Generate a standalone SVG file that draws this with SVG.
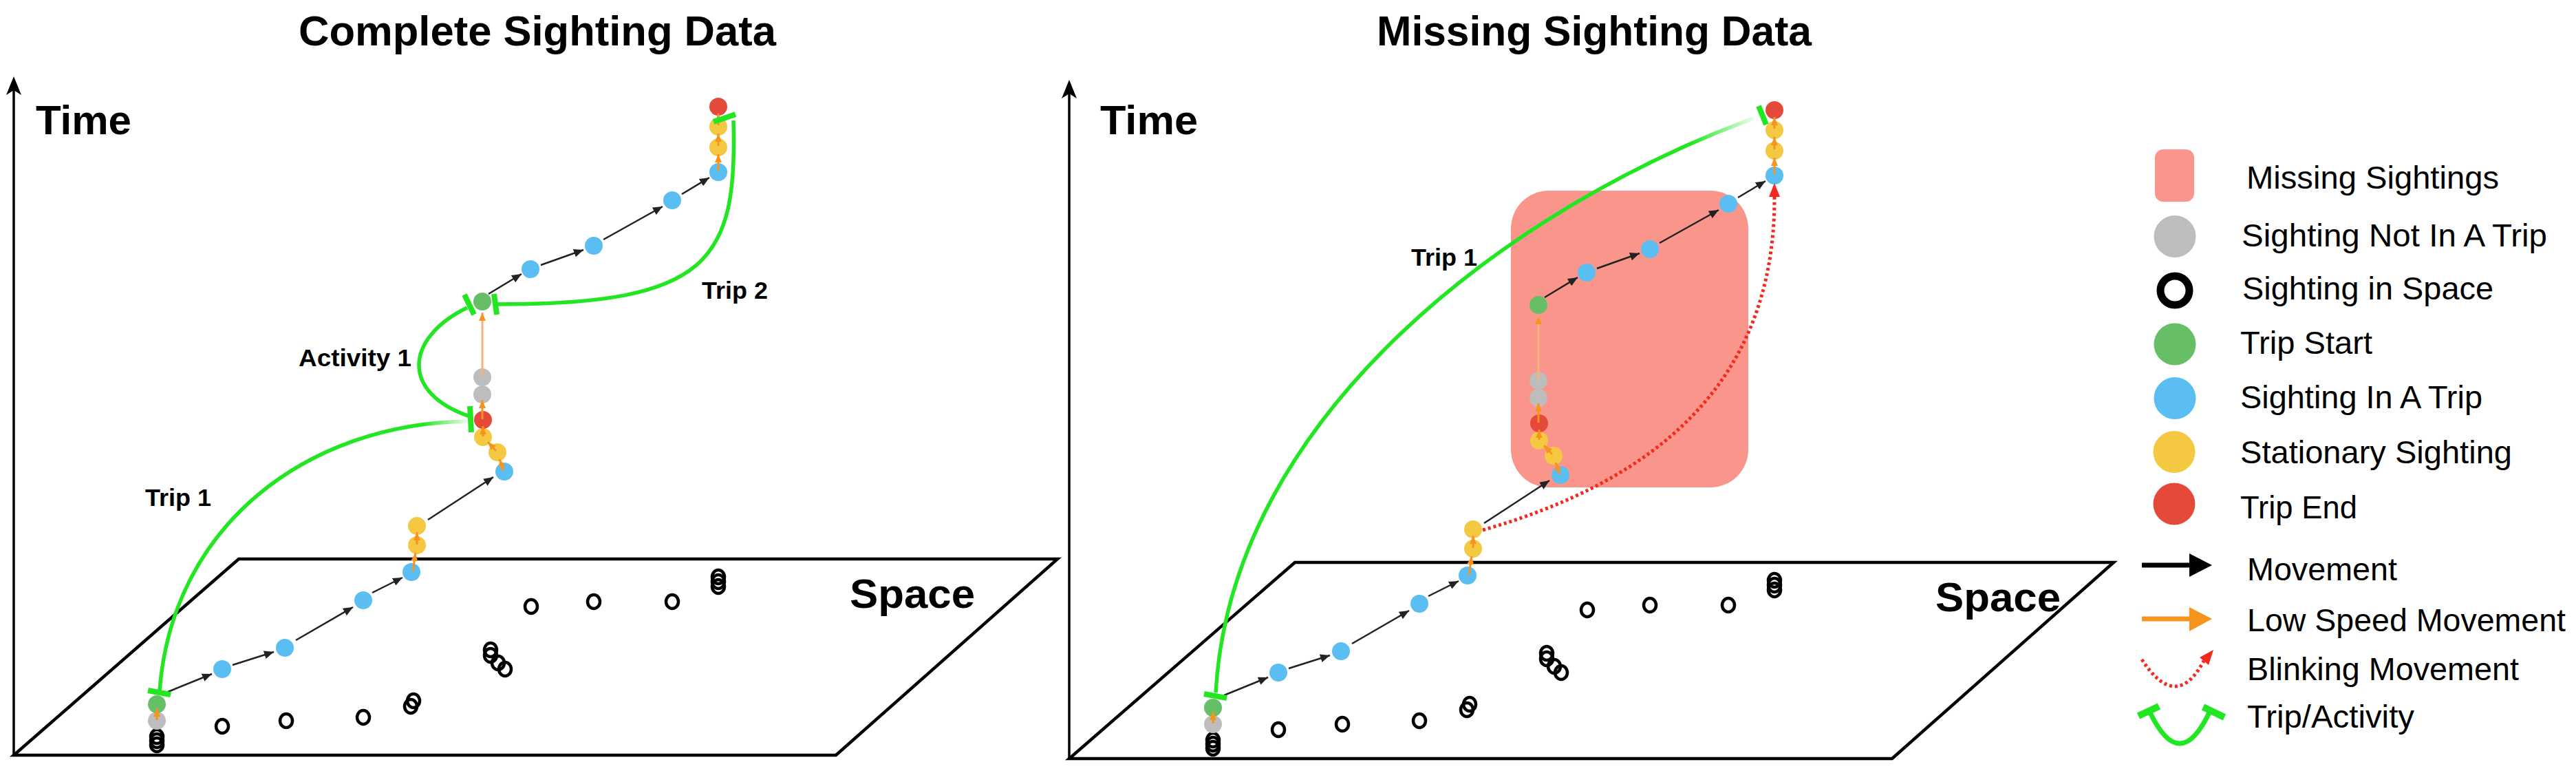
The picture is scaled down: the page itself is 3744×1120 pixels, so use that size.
<svg xmlns="http://www.w3.org/2000/svg" xmlns:xlink="http://www.w3.org/1999/xlink" width="3744" height="1120" viewBox="0 0 3744 1120">
<style>
text{font-family:'Liberation Sans',Arial,Helvetica,sans-serif;fill:#000}
.ttl{font-size:61px;font-weight:bold}
.ax{font-size:60px;font-weight:bold}
.lab{font-size:35px;font-weight:bold}
.leg{font-size:46px}
.g{fill:#66BF66}.gy{fill:#BDBDBD}.b{fill:#5BBEF2}.y{fill:#F5C842}.r{fill:#E5493A}
.ring{fill:none;stroke:#000;stroke-width:4.5}
.plane{fill:none;stroke:#000;stroke-width:4.5;stroke-linejoin:miter}
.axis{stroke:#000;stroke-width:3.5}
.mv{stroke:#222;stroke-width:2.5;fill:none;marker-end:url(#hb)}
.ls{stroke:#F7941D;stroke-width:3;fill:none;marker-end:url(#ho)}
.lsl{stroke:#F6B27C;stroke-width:3;fill:none;marker-end:url(#ho)}
.trip{stroke:#22E622;stroke-width:5.5;fill:none}
.bar{stroke:#22E622;stroke-width:8;stroke-linecap:butt}
.blink{stroke:#F5281E;stroke-width:5;stroke-dasharray:4 4;fill:none}
</style>
<defs>
<marker id="hb" markerUnits="userSpaceOnUse" viewBox="0 0 14 12" refX="14" refY="6" markerWidth="14" markerHeight="12" orient="auto"><path d="M0,0 L14,6 L0,12 z" fill="#222"/></marker>
<marker id="ho" markerUnits="userSpaceOnUse" viewBox="0 0 12 10" refX="12" refY="5" markerWidth="12" markerHeight="10" orient="auto"><path d="M0,0 L12,5 L0,10 z" fill="#F7941D"/></marker>
<linearGradient id="fadeL" gradientUnits="userSpaceOnUse" x1="679" y1="612" x2="615" y2="616"><stop offset="0" stop-color="#22E622" stop-opacity="0.1"/><stop offset="1" stop-color="#22E622" stop-opacity="1"/></linearGradient>
<linearGradient id="fadeR" gradientUnits="userSpaceOnUse" x1="2548" y1="172" x2="2460" y2="212"><stop offset="0" stop-color="#22E622" stop-opacity="0.1"/><stop offset="1" stop-color="#22E622" stop-opacity="1"/></linearGradient>
</defs>
<rect width="3744" height="1120" fill="#fff"/>

<!-- titles -->
<text class="ttl" x="781" y="66" text-anchor="middle" textLength="694" lengthAdjust="spacingAndGlyphs">Complete Sighting Data</text>
<text class="ttl" x="2317" y="66" text-anchor="middle" textLength="632" lengthAdjust="spacingAndGlyphs">Missing Sighting Data</text>

<!-- missing region (behind) -->
<g id="missing-region"><rect x="2196" y="277" width="345" height="431" rx="55" fill="#F9958A"/></g>

<!-- axes and planes -->
<g id="left-frame">
<line class="axis" x1="20" y1="1097" x2="20" y2="126"/>
<polygon points="20,111 9,138 20,131 31,138" fill="#000"/>
<polygon class="plane" points="347,812 1537,812 1215,1097 20,1097"/>
<text class="ax" x="52" y="195" textLength="139" lengthAdjust="spacingAndGlyphs">Time</text>
<text class="ax" x="1235" y="883" textLength="182" lengthAdjust="spacingAndGlyphs">Space</text>
</g>
<g id="right-frame">
<line class="axis" x1="1554" y1="1102" x2="1554" y2="131"/>
<polygon points="1554,116 1543,143 1554,136 1565,143" fill="#000"/>
<polygon class="plane" points="1882,817 3072,817 2750,1102 1554,1102"/>
<text class="ax" x="1599" y="195" textLength="142" lengthAdjust="spacingAndGlyphs">Time</text>
<text class="ax" x="2813" y="888" textLength="182" lengthAdjust="spacingAndGlyphs">Space</text>
</g>

<!-- LEFT nodes -->
<g id="left-nodes">
<g id="L-s0"><ellipse class="ring" cx="228" cy="1070" rx="9" ry="10"/><ellipse class="ring" cx="228" cy="1076" rx="9" ry="10"/><ellipse class="ring" cx="228" cy="1082" rx="9" ry="10"/></g>
<g id="L-s1"><ellipse class="ring" cx="323" cy="1055" rx="9" ry="10"/></g>
<g id="L-s2"><ellipse class="ring" cx="416" cy="1047" rx="9" ry="10"/></g>
<g id="L-s3"><ellipse class="ring" cx="528" cy="1042" rx="9" ry="10"/></g>
<g id="L-s4"><ellipse class="ring" cx="597" cy="1026" rx="9" ry="10"/><ellipse class="ring" cx="601" cy="1018" rx="9" ry="10"/></g>
<g id="L-s5"><ellipse class="ring" cx="713" cy="944" rx="9" ry="10"/><ellipse class="ring" cx="713" cy="952" rx="9" ry="10"/><ellipse class="ring" cx="724" cy="963" rx="9" ry="10"/><ellipse class="ring" cx="734" cy="972" rx="9" ry="10"/></g>
<g id="L-s6"><ellipse class="ring" cx="772" cy="881" rx="9" ry="10"/></g>
<g id="L-s7"><ellipse class="ring" cx="863" cy="874" rx="9" ry="10"/></g>
<g id="L-s8"><ellipse class="ring" cx="977" cy="874" rx="9" ry="10"/></g>
<g id="L-s9"><ellipse class="ring" cx="1044" cy="838" rx="9" ry="10"/><ellipse class="ring" cx="1044" cy="845" rx="9" ry="10"/><ellipse class="ring" cx="1044" cy="852" rx="9" ry="10"/></g>
<g id="L-gy1"><circle class="gy" cx="228" cy="1047" r="13"/></g>
<g id="L-st1"><circle class="g" cx="228" cy="1023" r="13"/></g>
<g id="L-b1"><circle class="b" cx="323" cy="972" r="13"/></g>
<g id="L-b2"><circle class="b" cx="414" cy="941" r="13"/></g>
<g id="L-b3"><circle class="b" cx="528" cy="872" r="13"/></g>
<g id="L-b4"><circle class="b" cx="598" cy="831" r="13"/></g>
<g id="L-y1"><circle class="y" cx="606" cy="792" r="13"/></g>
<g id="L-y2"><circle class="y" cx="606" cy="764" r="13"/></g>
<g id="L-b5"><circle class="b" cx="733" cy="685" r="13"/></g>
<g id="L-y3"><circle class="y" cx="723" cy="657" r="13"/></g>
<g id="L-y4"><circle class="y" cx="702" cy="635" r="13"/></g>
<g id="L-e1"><circle class="r" cx="702" cy="610" r="13"/></g>
<g id="L-gy2"><circle class="gy" cx="701" cy="573" r="13"/></g>
<g id="L-gy3"><circle class="gy" cx="701" cy="548" r="13"/></g>
<g id="L-st2"><circle class="g" cx="701" cy="438" r="13"/></g>
<g id="L-b6"><circle class="b" cx="771" cy="391" r="13"/></g>
<g id="L-b7"><circle class="b" cx="863" cy="357" r="13"/></g>
<g id="L-b8"><circle class="b" cx="977" cy="291" r="13"/></g>
<g id="L-b9"><circle class="b" cx="1044" cy="250" r="13"/></g>
<g id="L-y5"><circle class="y" cx="1044" cy="214" r="13"/></g>
<g id="L-y6"><circle class="y" cx="1044" cy="184" r="13"/></g>
<g id="L-e2"><circle class="r" cx="1044" cy="155" r="13"/></g>
</g>

<!-- RIGHT nodes -->
<g id="right-nodes" transform="translate(1535,5)">
<g id="R-s0"><ellipse class="ring" cx="228" cy="1070" rx="9" ry="10"/><ellipse class="ring" cx="228" cy="1076" rx="9" ry="10"/><ellipse class="ring" cx="228" cy="1082" rx="9" ry="10"/></g>
<g id="R-s1"><ellipse class="ring" cx="323" cy="1055" rx="9" ry="10"/></g>
<g id="R-s2"><ellipse class="ring" cx="416" cy="1047" rx="9" ry="10"/></g>
<g id="R-s3"><ellipse class="ring" cx="528" cy="1042" rx="9" ry="10"/></g>
<g id="R-s4"><ellipse class="ring" cx="597" cy="1026" rx="9" ry="10"/><ellipse class="ring" cx="601" cy="1018" rx="9" ry="10"/></g>
<g id="R-s5"><ellipse class="ring" cx="713" cy="944" rx="9" ry="10"/><ellipse class="ring" cx="713" cy="952" rx="9" ry="10"/><ellipse class="ring" cx="724" cy="963" rx="9" ry="10"/><ellipse class="ring" cx="734" cy="972" rx="9" ry="10"/></g>
<g id="R-s6"><ellipse class="ring" cx="772" cy="881" rx="9" ry="10"/></g>
<g id="R-s7"><ellipse class="ring" cx="863" cy="874" rx="9" ry="10"/></g>
<g id="R-s8"><ellipse class="ring" cx="977" cy="874" rx="9" ry="10"/></g>
<g id="R-s9"><ellipse class="ring" cx="1044" cy="838" rx="9" ry="10"/><ellipse class="ring" cx="1044" cy="845" rx="9" ry="10"/><ellipse class="ring" cx="1044" cy="852" rx="9" ry="10"/></g>
<g id="R-gy1"><circle class="gy" cx="228" cy="1047" r="13"/></g>
<g id="R-st1"><circle class="g" cx="228" cy="1023" r="13"/></g>
<g id="R-b1"><circle class="b" cx="323" cy="972" r="13"/></g>
<g id="R-b2"><circle class="b" cx="414" cy="941" r="13"/></g>
<g id="R-b3"><circle class="b" cx="528" cy="872" r="13"/></g>
<g id="R-b4"><circle class="b" cx="598" cy="831" r="13"/></g>
<g id="R-y1"><circle class="y" cx="606" cy="792" r="13"/></g>
<g id="R-y2"><circle class="y" cx="606" cy="764" r="13"/></g>
<g id="R-b5"><circle class="b" cx="733" cy="685" r="13"/></g>
<g id="R-y3"><circle class="y" cx="723" cy="657" r="13"/></g>
<g id="R-y4"><circle class="y" cx="702" cy="635" r="13"/></g>
<g id="R-e1"><circle class="r" cx="702" cy="610" r="13"/></g>
<g id="R-gy2"><circle class="gy" cx="701" cy="573" r="13"/></g>
<g id="R-gy3"><circle class="gy" cx="701" cy="548" r="13"/></g>
<g id="R-st2"><circle class="g" cx="701" cy="438" r="13"/></g>
<g id="R-b6"><circle class="b" cx="771" cy="391" r="13"/></g>
<g id="R-b7"><circle class="b" cx="863" cy="357" r="13"/></g>
<g id="R-b8"><circle class="b" cx="977" cy="291" r="13"/></g>
<g id="R-b9"><circle class="b" cx="1044" cy="250" r="13"/></g>
<g id="R-y5"><circle class="y" cx="1044" cy="214" r="13"/></g>
<g id="R-y6"><circle class="y" cx="1044" cy="184" r="13"/></g>
<g id="R-e2"><circle class="r" cx="1044" cy="155" r="13"/></g>
</g>

<!-- connectors -->
<g id="connectors">
<g id="left-moves">
<line class="ls" x1="228" y1="1046" x2="228" y2="1029"/>
<line class="mv" x1="244" y1="1005" x2="308" y2="979"/>
<line class="mv" x1="338" y1="966" x2="398" y2="947"/>
<line class="mv" x1="430" y1="930" x2="513" y2="882"/>
<line class="mv" x1="541" y1="861" x2="585" y2="839"/>
<line class="ls" x1="600" y1="830" x2="604" y2="803"/>
<line class="ls" x1="606" y1="791" x2="606" y2="773"/>
<line class="mv" x1="622" y1="755" x2="717" y2="693"/>
<line class="ls" x1="732" y1="684" x2="726" y2="667"/>
<line class="ls" x1="721" y1="655" x2="709" y2="642"/>
<line class="ls" x1="702" y1="634" x2="702" y2="619"/>
<line class="ls" x1="701" y1="609" x2="701" y2="581"/>
<line class="lsl" x1="701" y1="546" x2="701" y2="454"/>
<line class="mv" x1="710" y1="427" x2="758" y2="398"/>
<line class="mv" x1="786" y1="385" x2="848" y2="363"/>
<line class="mv" x1="877" y1="348" x2="963" y2="300"/>
<line class="mv" x1="991" y1="282" x2="1031" y2="258"/>
<line class="ls" x1="1044" y1="248" x2="1044" y2="224"/>
<line class="ls" x1="1044" y1="212" x2="1044" y2="194"/>
<line class="ls" x1="1044" y1="182" x2="1044" y2="165"/>
</g>
<g id="right-moves" transform="translate(1535,5)">
<line class="ls" x1="228" y1="1046" x2="228" y2="1029"/>
<line class="mv" x1="244" y1="1005" x2="308" y2="979"/>
<line class="mv" x1="338" y1="966" x2="398" y2="947"/>
<line class="mv" x1="430" y1="930" x2="513" y2="882"/>
<line class="mv" x1="541" y1="861" x2="585" y2="839"/>
<line class="ls" x1="600" y1="830" x2="604" y2="803"/>
<line class="ls" x1="606" y1="791" x2="606" y2="773"/>
<line class="mv" x1="622" y1="755" x2="717" y2="693"/>
<line class="ls" x1="732" y1="684" x2="726" y2="667"/>
<line class="ls" x1="721" y1="655" x2="709" y2="642"/>
<line class="ls" x1="702" y1="634" x2="702" y2="619"/>
<line class="ls" x1="701" y1="609" x2="701" y2="581"/>
<line class="lsl" x1="701" y1="546" x2="701" y2="454"/>
<line class="mv" x1="710" y1="427" x2="758" y2="398"/>
<line class="mv" x1="786" y1="385" x2="848" y2="363"/>
<line class="mv" x1="877" y1="348" x2="963" y2="300"/>
<line class="mv" x1="991" y1="282" x2="1031" y2="258"/>
<line class="ls" x1="1044" y1="248" x2="1044" y2="224"/>
<line class="ls" x1="1044" y1="212" x2="1044" y2="194"/>
<line class="ls" x1="1044" y1="182" x2="1044" y2="165"/>
</g>
<g id="left-trips">
<path d="M679,612 C450,615 250,760 232,1004" fill="none" stroke="url(#fadeL)" stroke-width="5.5"/>
<line class="bar" x1="215" y1="1003" x2="248" y2="1009"/>
<line class="bar" x1="683" y1="590" x2="685" y2="628"/>
<path class="trip" d="M679,447 C590,490 580,570 683,605"/>
<line class="bar" x1="675" y1="428" x2="689" y2="457"/>
<path class="trip" d="M723,442 C1030,442 1072,380 1066,175" stroke-width="6.5"/>
<line class="bar" x1="718" y1="427" x2="722" y2="457"/>
<line class="bar" x1="1037" y1="177" x2="1069" y2="166"/>
</g>
<g id="right-trips">
<path d="M2548,172 C2200,300 1790,600 1767,1006" fill="none" stroke="url(#fadeR)" stroke-width="5.5"/>
<line class="bar" x1="2556" y1="154" x2="2567" y2="181"/>
<line class="bar" x1="1750" y1="1008" x2="1783" y2="1014"/>
<path class="blink" d="M2155,770 C2400,700 2580,560 2579,286"/>
<polygon points="2579,266 2571,286 2587,286" fill="#F5281E"/>
</g>
</g>

<!-- labels -->
<g id="labels">
<text class="lab" x="211" y="735" textLength="96" lengthAdjust="spacingAndGlyphs">Trip 1</text>
<text class="lab" x="434" y="532" textLength="164" lengthAdjust="spacingAndGlyphs">Activity 1</text>
<text class="lab" x="1020" y="434" textLength="96" lengthAdjust="spacingAndGlyphs">Trip 2</text>
<text class="lab" x="2051" y="386" textLength="96" lengthAdjust="spacingAndGlyphs">Trip 1</text>
</g>

<!-- legend -->
<g id="legend">
<g id="leg-missing"><rect x="3132" y="217" width="57" height="76" rx="12" fill="#F9958A"/><text class="leg" x="3265" y="274" textLength="367" lengthAdjust="spacingAndGlyphs">Missing Sightings</text></g>
<g id="leg-notrip"><circle class="gy" cx="3161" cy="343.5" r="30.5"/><text class="leg" x="3258" y="358" textLength="444" lengthAdjust="spacingAndGlyphs">Sighting Not In A Trip</text></g>
<g id="leg-space"><circle cx="3161" cy="422" r="21" fill="none" stroke="#000" stroke-width="11"/><text class="leg" x="3259" y="435" textLength="365" lengthAdjust="spacingAndGlyphs">Sighting in Space</text></g>
<g id="leg-start"><circle class="g" cx="3161" cy="500" r="30.5"/><text class="leg" x="3256" y="514" textLength="192" lengthAdjust="spacingAndGlyphs">Trip Start</text></g>
<g id="leg-intrip"><circle class="b" cx="3161" cy="578.5" r="30.5"/><text class="leg" x="3256" y="593" textLength="352" lengthAdjust="spacingAndGlyphs">Sighting In A Trip</text></g>
<g id="leg-stat"><circle class="y" cx="3160" cy="656.5" r="30.5"/><text class="leg" x="3256" y="673" textLength="395" lengthAdjust="spacingAndGlyphs">Stationary Sighting</text></g>
<g id="leg-end"><circle class="r" cx="3160" cy="732" r="30.5"/><text class="leg" x="3256" y="753" textLength="170" lengthAdjust="spacingAndGlyphs">Trip End</text></g>
<g id="leg-move"><line x1="3113" y1="821" x2="3184" y2="821" stroke="#000" stroke-width="7"/><polygon points="3182,804 3215,821 3182,838" fill="#000"/><text class="leg" x="3266" y="843" textLength="218" lengthAdjust="spacingAndGlyphs">Movement</text></g>
<g id="leg-low"><line x1="3113" y1="899" x2="3184" y2="899" stroke="#F7941D" stroke-width="7"/><polygon points="3182,882 3215,899 3182,917" fill="#F7941D"/><text class="leg" x="3266" y="917" textLength="463" lengthAdjust="spacingAndGlyphs">Low Speed Movement</text></g>
<g id="leg-blink"><path class="blink" d="M3113,958 Q3163,1035 3203,960"/><polygon points="3217,944 3197,955 3210,966" fill="#F5281E"/><text class="leg" x="3266" y="988" textLength="395" lengthAdjust="spacingAndGlyphs">Blinking Movement</text></g>
<g id="leg-trip"><path d="M3124,1033 Q3168,1127 3212,1033" fill="none" stroke="#22E622" stroke-width="7"/><line x1="3108" y1="1040" x2="3138" y2="1026" stroke="#22E622" stroke-width="10"/><line x1="3202" y1="1027" x2="3233" y2="1042" stroke="#22E622" stroke-width="10"/><text class="leg" x="3266" y="1057" textLength="243" lengthAdjust="spacingAndGlyphs">Trip/Activity</text></g>
</g>
</svg>
